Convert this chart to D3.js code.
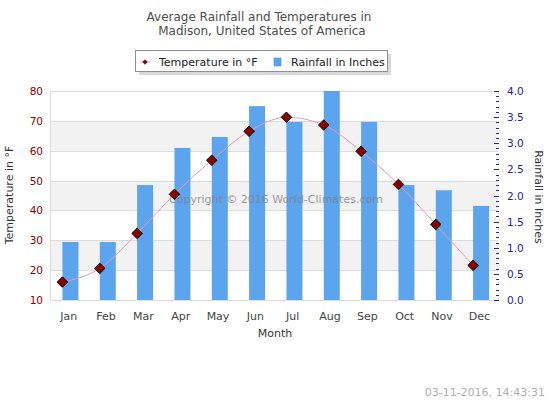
<!DOCTYPE html>
<html>
<head>
<meta charset="utf-8">
<script src="https://cdn.jsdelivr.net/npm/d3@7/dist/d3.min.js"></script>
<style>
  body { margin: 0; background: #fff; }
  svg { font-family: "DejaVu Sans", Verdana, sans-serif; }
</style>
</head>
<body>
<div id="chart"></div>
<script>
// Data
var months = ['Jan', 'Feb', 'Mar', 'Apr', 'May', 'Jun', 'Jul', 'Aug', 'Sep', 'Oct', 'Nov', 'Dec'];
var temperature = [16, 20.6, 32.3, 45.4, 56.8, 66.5, 71.2, 68.6, 59.8, 48.7, 35.3, 21.6];
var rainfall = [1.11, 1.11, 2.2, 2.91, 3.12, 3.71, 3.41, 4.0, 3.41, 2.2, 2.1, 1.8];
var tempTicks = [10, 20, 30, 40, 50, 60, 70, 80];
var rainTicks = [0, 0.5, 1, 1.5, 2, 2.5, 3, 3.5, 4];

var W = 550, H = 400;
var plotL = 50, plotR = 498, plotT = 91, plotB = 300;

var svg = d3.select('#chart').append('svg')
  .attr('width', W).attr('height', H);

var x = d3.scaleBand().domain(months).range([plotL, plotR]);
var yT = d3.scaleLinear().domain([10, 80]).range([plotB, plotT]);
var yR = d3.scaleLinear().domain([0, 4]).range([plotB, plotT]);

// Alternating bands
tempTicks.slice(0, -1).forEach(function(t, i) {
  if (i % 2 === 1) {
    svg.append('rect')
      .attr('x', plotL).attr('width', plotR - plotL)
      .attr('y', yT(t + 10)).attr('height', yT(t) - yT(t + 10))
      .attr('fill', '#f2f2f2');
  }
});

// Grid lines
svg.append('g').selectAll('line').data(tempTicks).enter().append('line')
  .attr('x1', plotL).attr('x2', plotR)
  .attr('y1', function(d) { return Math.round(yT(d)) + 0.5; })
  .attr('y2', function(d) { return Math.round(yT(d)) + 0.5; })
  .attr('stroke', '#dddddd').attr('stroke-width', 1);

svg.append('line')
  .attr('x1', plotL + 0.5).attr('x2', plotL + 0.5)
  .attr('y1', plotT).attr('y2', plotB)
  .attr('stroke', '#dddddd');

// Rainfall bars
var offset = x.bandwidth() / 3, barW = 16;
svg.append('g').selectAll('rect').data(rainfall).enter().append('rect')
  .attr('x', function(d, i) { return x(months[i]) + offset; })
  .attr('width', barW)
  .attr('y', function(d) { return yR(d); })
  .attr('height', function(d) { return plotB - yR(d); })
  .attr('fill', '#5ca4ee');

// Watermark (over bars, under the line)
svg.append('text')
  .attr('x', 276).attr('y', 203)
  .attr('text-anchor', 'middle')
  .attr('font-size', 11)
  .attr('fill', '#808080')
  .attr('opacity', 0.75)
  .text('Copyright \u00a9 2016 World-Climates.com');

// Temperature line
var line = d3.line()
  .x(function(d, i) { return x(months[i]) + offset; })
  .y(function(d) { return yT(d); })
  .curve(d3.curveMonotoneX);

svg.append('path')
  .attr('d', line(temperature))
  .attr('fill', 'none')
  .attr('stroke', '#e89ab8')
  .attr('stroke-width', 1);

var diamond = d3.symbol().type(d3.symbolDiamond2).size(70);
svg.append('g').selectAll('path').data(temperature).enter().append('path')
  .attr('d', diamond)
  .attr('transform', function(d, i) {
    return 'translate(' + (x(months[i]) + offset) + ',' + yT(d) + ')';
  })
  .attr('fill', '#8b0000')
  .attr('stroke', '#000')
  .attr('stroke-width', 1);

// Left axis labels
svg.append('g').selectAll('text').data(tempTicks).enter().append('text')
  .attr('x', 43).attr('y', function(d) { return yT(d) + 4; })
  .attr('text-anchor', 'end')
  .attr('font-size', 10.5)
  .attr('fill', '#8b0000')
  .text(function(d) { return d; });

// Right axis: minor ticks, major ticks, labels
var minor = d3.range(0, 41).map(function(v) { return v / 10; });
svg.append('g').selectAll('line').data(minor).enter().append('line')
  .attr('x1', function(d, i) { return i % 5 === 0 ? 494 : 496; })
  .attr('x2', 499)
  .attr('y1', function(d) { return Math.round(yR(d)) + 0.5; })
  .attr('y2', function(d) { return Math.round(yR(d)) + 0.5; })
  .attr('stroke', '#2222aa')
  .attr('stroke-width', 1);

svg.append('g').selectAll('text').data(rainTicks).enter().append('text')
  .attr('x', 507).attr('y', function(d) { return yR(d) + 4; })
  .attr('font-size', 10.5)
  .attr('fill', '#2222aa')
  .text(function(d) { return d3.format('.1f')(d); });

// Month labels
svg.append('g').selectAll('text').data(months).enter().append('text')
  .attr('x', function(d) { return x(d) + x.bandwidth() / 2; })
  .attr('y', 320)
  .attr('text-anchor', 'middle')
  .attr('font-size', 11)
  .attr('fill', '#444')
  .text(function(d) { return d; });

// Axis titles
svg.append('text')
  .attr('x', 275).attr('y', 337)
  .attr('text-anchor', 'middle')
  .attr('font-size', 11)
  .attr('fill', '#333')
  .text('Month');

svg.append('text')
  .attr('transform', 'translate(13,195) rotate(-90)')
  .attr('text-anchor', 'middle')
  .attr('font-size', 11)
  .attr('fill', '#333')
  .text('Temperature in \u00b0F');

svg.append('text')
  .attr('transform', 'translate(535,197) rotate(90)')
  .attr('text-anchor', 'middle')
  .attr('font-size', 11)
  .attr('fill', '#333')
  .text('Rainfall in Inches');

// Title
svg.append('text')
  .attr('x', 259).attr('y', 21)
  .attr('text-anchor', 'middle')
  .attr('font-size', 12)
  .attr('fill', '#4d4d4d')
  .text('Average Rainfall and Temperatures in');
svg.append('text')
  .attr('x', 262).attr('y', 35)
  .attr('text-anchor', 'middle')
  .attr('font-size', 12)
  .attr('fill', '#4d4d4d')
  .text('Madison, United States of America');

// Legend
var lg = svg.append('g');
lg.append('rect')
  .attr('x', 139).attr('y', 54).attr('width', 252).attr('height', 21)
  .attr('fill', '#d8d8d8');
lg.append('rect')
  .attr('x', 135.5).attr('y', 50.5).attr('width', 252).attr('height', 21)
  .attr('fill', '#fff').attr('stroke', '#909090');
lg.append('line')
  .attr('x1', 140).attr('x2', 150).attr('y1', 62).attr('y2', 62)
  .attr('stroke', '#e89ab8');
lg.append('path')
  .attr('d', d3.symbol().type(d3.symbolDiamond2).size(14))
  .attr('transform', 'translate(145,62)')
  .attr('fill', '#8b0000').attr('stroke', '#000').attr('stroke-width', 0.5);
lg.append('text')
  .attr('x', 159).attr('y', 66)
  .attr('font-size', 11).attr('fill', '#222')
  .text('Temperature in \u00b0F');
lg.append('rect')
  .attr('x', 274).attr('y', 58).attr('width', 7).attr('height', 8)
  .attr('fill', '#5ca4ee').attr('stroke', '#4a86c8').attr('stroke-width', 0.5);
lg.append('text')
  .attr('x', 291).attr('y', 66)
  .attr('font-size', 11).attr('fill', '#222')
  .text('Rainfall in Inches');

// Timestamp
svg.append('text')
  .attr('x', 545).attr('y', 396)
  .attr('text-anchor', 'end')
  .attr('font-size', 11)
  .attr('fill', '#b0b0b0')
  .text('03-11-2016, 14:43:31');
</script>
</body>
</html>
